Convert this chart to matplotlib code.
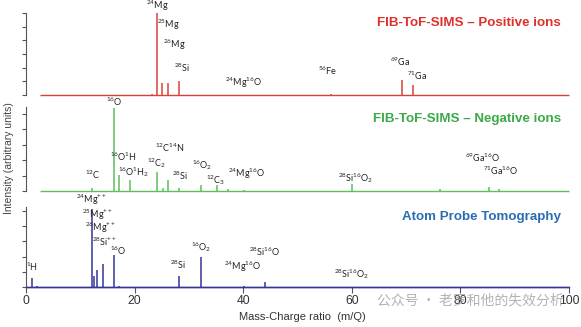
import matplotlib
matplotlib.use("Agg")
import matplotlib.pyplot as plt

plt.rcParams['mathtext.fontset'] = 'custom'
plt.rcParams['mathtext.rm'] = 'Lato'
plt.rcParams['mathtext.it'] = 'Lato'
plt.rcParams['mathtext.bf'] = 'Lato'

# ---------------- data ----------------
# Positive ions (FIB-ToF-SIMS)
pos_mz = [23.2, 24.1, 25.1, 26.1, 28.2, 56.2, 69.2, 71.2]
pos_int = [0.10, 6.0, 0.85, 0.90, 1.05, 0.10, 1.10, 0.75]
pos_labels = [r'$^{24}$Mg', r'$^{25}$Mg', r'$^{26}$Mg', r'$^{28}$Si',
              r'$^{24}$Mg$^{16}$O', r'$^{56}$Fe', r'$^{69}$Ga', r'$^{71}$Ga']
pos_lab_x = [24.1, 26.2, 27.3, 28.7, 40.0, 55.6, 68.9, 72.0]
pos_lab_y = [6.5, 5.1, 3.7, 2.0, 0.9, 1.8, 2.4, 1.4]

# Negative ions (FIB-ToF-SIMS)
neg_mz = [12.1, 16.2, 17.1, 19.1, 24.1, 25.2, 26.2, 28.2, 32.2, 35.2, 37.2,
          40.2, 60.0, 76.2, 85.3, 87.1]
neg_int = [0.20, 5.40, 1.05, 0.70, 1.25, 0.20, 0.70, 0.20, 0.40, 0.40, 0.10,
           0.06, 0.45, 0.10, 0.25, 0.13]
neg_labels = [r'$^{16}$O', r'$^{16}$O$^{1}$H', r'$^{16}$O$^{1}$H$_{2}$', r'$^{12}$C',
              r'$^{12}$C$_{2}$', r'$^{12}$C$^{14}$N', r'$^{28}$Si', r'$^{16}$O$_{2}$',
              r'$^{12}$C$_{3}$', r'$^{24}$Mg$^{16}$O', r'$^{28}$Si$^{16}$O$_{2}$',
              r'$^{69}$Ga$^{16}$O', r'$^{71}$Ga$^{16}$O']
neg_lab_x = [16.2, 17.9, 19.8, 12.2, 24.1, 26.5, 28.4, 32.4, 35.0, 40.7, 60.6, 84.0, 87.3]
neg_lab_y = [5.8, 2.2, 1.23, 1.04, 1.8, 2.8, 0.97, 1.7, 0.72, 1.1, 0.85, 2.15, 1.3]

# Atom Probe Tomography
apt_mz = [1.1, 2.1, 12.1, 12.6, 13.1, 14.1, 16.2, 17.1, 28.2, 32.2, 40.2, 44.1]
apt_int = [0.60, 0.07, 5.10, 0.70, 1.10, 1.50, 2.10, 0.07, 0.70, 2.00, 0.07, 0.33]
apt_labels = [r'$^{24}$Mg$^{++}$', r'$^{25}$Mg$^{++}$', r'$^{26}$Mg$^{++}$', r'$^{28}$Si$^{++}$',
              r'$^{16}$O', r'$^{1}$H', r'$^{28}$Si', r'$^{16}$O$_{2}$',
              r'$^{24}$Mg$^{16}$O', r'$^{28}$Si$^{16}$O', r'$^{28}$Si$^{16}$O$_{2}$']
apt_lab_x = [12.0, 13.2, 13.7, 14.4, 17.0, 1.2, 28.0, 32.2, 39.8, 44.0, 60.0]
apt_lab_y = [5.75, 4.75, 3.9, 2.98, 2.35, 1.3, 1.45, 2.6, 1.3, 2.3, 0.85]

x_ticks = [0, 20, 40, 60, 80, 100]

# ---------------- styling ----------------
RED = '#d9403a'
GREEN = '#5cbf5c'
BLUE = '#34349a'
T_RED = '#e0302a'
T_GREEN = '#3aaa48'
T_BLUE = '#2a6db3'
SPINE = '#555555'
LABFONT = 'Lato'

W, H = 581, 327
fig = plt.figure(figsize=(W / 100, H / 100), dpi=100)

def add_panel(bottom_px, top_px):
    left = 26 / W
    width = 543 / W
    return fig.add_axes([left, 1 - bottom_px / H, width, (bottom_px - top_px) / H])

ax1 = add_panel(95, 13)
ax2 = add_panel(191, 107)
ax3 = add_panel(287, 207)

panels = [
    (ax1, pos_mz, pos_int, RED, 6.0, 6, pos_labels, pos_lab_x, pos_lab_y,
     'FIB-ToF-SIMS \u2013 Positive ions', T_RED, 2.6, 23),
    (ax2, neg_mz, neg_int, GREEN, 5.45, 5, neg_labels, neg_lab_x, neg_lab_y,
     'FIB-ToF-SIMS \u2013 Negative ions', T_GREEN, 2.6, 119),
    (ax3, apt_mz, apt_int, BLUE, 5.25, 5, apt_labels, apt_lab_x, apt_lab_y,
     'Atom Probe Tomography', T_BLUE, 0.0, 217),
]

for ax, mz, inten, col, ytop, nt, labs, lx, ly, title, tcol, xstart, ty in panels:
    ax.set_xlim(0, 100)
    ax.set_ylim(0, ytop)
    ax.vlines(mz, 0, inten, colors=col, linewidth=1.1, clip_on=False)
    ax.hlines(0, xstart, 100, colors=col, linewidth=1.0, clip_on=False)
    for s in ['top', 'right']:
        ax.spines[s].set_visible(False)
    ax.spines['left'].set_color(SPINE)
    ax.spines['left'].set_linewidth(0.8)
    ax.set_yticks(list(range(0, nt + 1)))
    ax.tick_params(axis='y', direction='out', length=3, width=0.8,
                   color=SPINE, labelleft=False)
    for t, x, y in zip(labs, lx, ly):
        ax.text(x, y, t, ha='center', va='center', fontsize=6.5,
                family=LABFONT, color='#222222', clip_on=False)
    fig.text(561 / W, 1 - ty / H, title, ha='right', va='center', fontsize=9.6,
             fontweight='bold', family='Liberation Sans', color=tcol)
    ax.patch.set_alpha(0)

for ax in (ax1, ax2):
    ax.spines['bottom'].set_visible(False)
    ax.set_xticks([])

ax3.spines['bottom'].set_color(BLUE)
ax3.spines['bottom'].set_linewidth(1.0)
ax3.set_xticks(x_ticks)
ax3.set_xticklabels([str(v) for v in x_ticks])
ax3.tick_params(axis='x', direction='out', length=4, width=0.8, color=SPINE,
                labelsize=8.8, labelcolor='#333333', pad=2)
for lbl in ax3.get_xticklabels():
    lbl.set_family('Liberation Sans')

fig.text(302 / W, 1 - 317 / H, 'Mass-Charge ratio  (m/Q)', ha='center', va='center',
         fontsize=8, family='Liberation Sans', color='#333333')
fig.text(9 / W, 1 - 158 / H, 'Intensity (arbitrary units)', ha='center', va='center',
         rotation=90, fontsize=7.5, family='Liberation Sans', color='#444444')

fig.text(470 / W, 1 - 301 / H, '公众号 · 老罗和他的失效分析', ha='center', va='center',
         fontsize=10, family=['Noto Sans CJK SC', 'DejaVu Sans'], color='#9a9a9a', alpha=0.75)

fig.savefig('out.png', dpi=100)
